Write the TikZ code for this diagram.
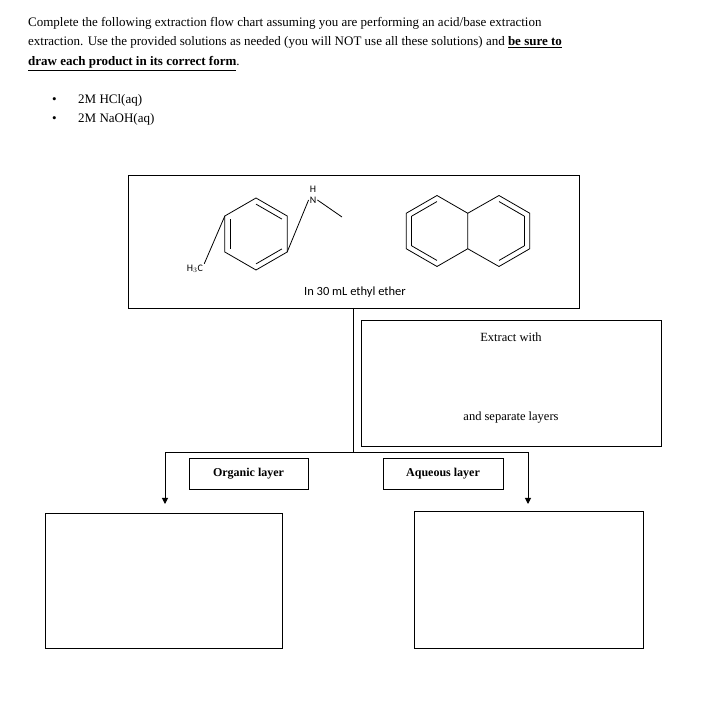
\documentclass[tikz,border=0pt]{standalone}
\usepackage{fontspec}
\setmainfont{Liberation Serif}
\newfontfamily\carl{Carlito}
\usetikzlibrary{calc,arrows.meta}
\begin{document}
\begin{tikzpicture}[x=1pt,y=-1pt,
  box/.style={draw,line width=0.9pt,inner sep=0pt},
  txt/.style={anchor=base west,inner sep=0pt,font=\fontsize{13}{15}\selectfont},
  bond/.style={line width=0.8pt},
  arr/.style={line width=1pt,-{Triangle[length=6pt,width=6pt]}}]
\useasboundingbox (0,0) rectangle (705,703);
\node[txt] (l1) at (28,27) {Complete the following extraction flow chart assuming you are performing an acid/base extraction};
\node[txt] (l2) at (28,46) {extraction. Use the provided solutions as needed (you will NOT use all these solutions) and \textbf{\underline{be sure to}}};
\node[txt] (l3) at (28,66) {\textbf{\underline{draw each product in its correct form}}.};
\node[txt] (b1) at (52,104) {\textbullet};
\node[txt] (t1) at (78,104) {2M HCl(aq)};
\node[txt] (b2) at (52,123) {\textbullet};
\node[txt] (t2) at (78,123) {2M NaOH(aq)};
% top box
\draw[box] (128,175) rectangle (579,308);
\node[font=\carl\fontsize{12.5}{14}\selectfont] (ether) at (355,292) {In 30 mL ethyl ether};
% toluidine
\coordinate (c1) at (256,234);
\foreach \i/\a in {1/90,2/30,3/-30,4/-90,5/-150,6/150}{\coordinate (p\i) at ($(c1)+(\a:36)$);}
\draw[bond] (p1)--(p2)--(p3)--(p4)--(p5)--(p6)--cycle;
\foreach \u/\v in {1/2,3/4,5/6}{\draw[bond] ($(c1)!0.83!(p\u)$)--($(c1)!0.83!(p\v)$);}
\node[inner sep=1pt,font=\carl\fontsize{10}{10}\selectfont] (N) at (313,200) {N};
\node[inner sep=0pt,font=\carl\fontsize{10}{10}\selectfont] (H) at (313,189) {H};
\coordinate (me) at (342,217);
\draw[bond] (p2)--(N.west) (N.east)--(me);
\node[inner sep=1pt,font=\carl\fontsize{10}{10}\selectfont] (ch3) at (195,269) {H$_3$C};
\draw[bond] (p5)--(ch3.north east);
% naphthalene
\coordinate (c2) at (437,231);
\coordinate (c3) at (499,231);
\foreach \i/\a in {1/90,2/30,3/-30,4/-90,5/-150,6/150}{\coordinate (q\i) at ($(c2)+(\a:35.5)$);\coordinate (r\i) at ($(c3)+(\a:35.5)$);}
\draw[bond] (q1)--(q2)--(q3)--(q4)--(q5)--(q6)--cycle;
\draw[bond] (q2)--(r1)--(r2)--(r3)--(r4)--(q3);
\foreach \u/\v in {5/6,1/6,4/5}{\draw[bond] ($(c2)!0.83!(q\u)$)--($(c2)!0.83!(q\v)$);}
\foreach \u/\v in {2/3,1/2,3/4}{\draw[bond] ($(c3)!0.83!(r\u)$)--($(c3)!0.83!(r\v)$);}
% flow
\draw[box] (361,320) rectangle (661,446);
\node[font=\fontsize{12.5}{14}\selectfont] (ex1) at (511,337) {Extract with};
\node[font=\fontsize{12.5}{14}\selectfont] (ex2) at (511,418) {and separate layers};
\coordinate (v1) at (353,308);
\coordinate (v2) at (353,453);
\coordinate (hl) at (165,453);
\coordinate (hr) at (528,453);
\coordinate (al) at (165,504);
\coordinate (ar) at (528,504);
\draw[line width=1pt] (v1)--(v2);
\draw[arr] (v2)--(hl)--(al);
\draw[arr] (v2)--(hr)--(ar);
\draw[box] (189,458) rectangle (308,489);
\node[font=\fontsize{12}{14}\selectfont\bfseries] (org) at (248.5,474) {Organic layer};
\draw[box] (383,458) rectangle (503,489);
\node[font=\fontsize{12}{14}\selectfont\bfseries] (aq) at (443,474) {Aqueous layer};
\draw[box] (45,513) rectangle (282,648);
\draw[box] (414,511) rectangle (643,648);
\end{tikzpicture}
\end{document}
